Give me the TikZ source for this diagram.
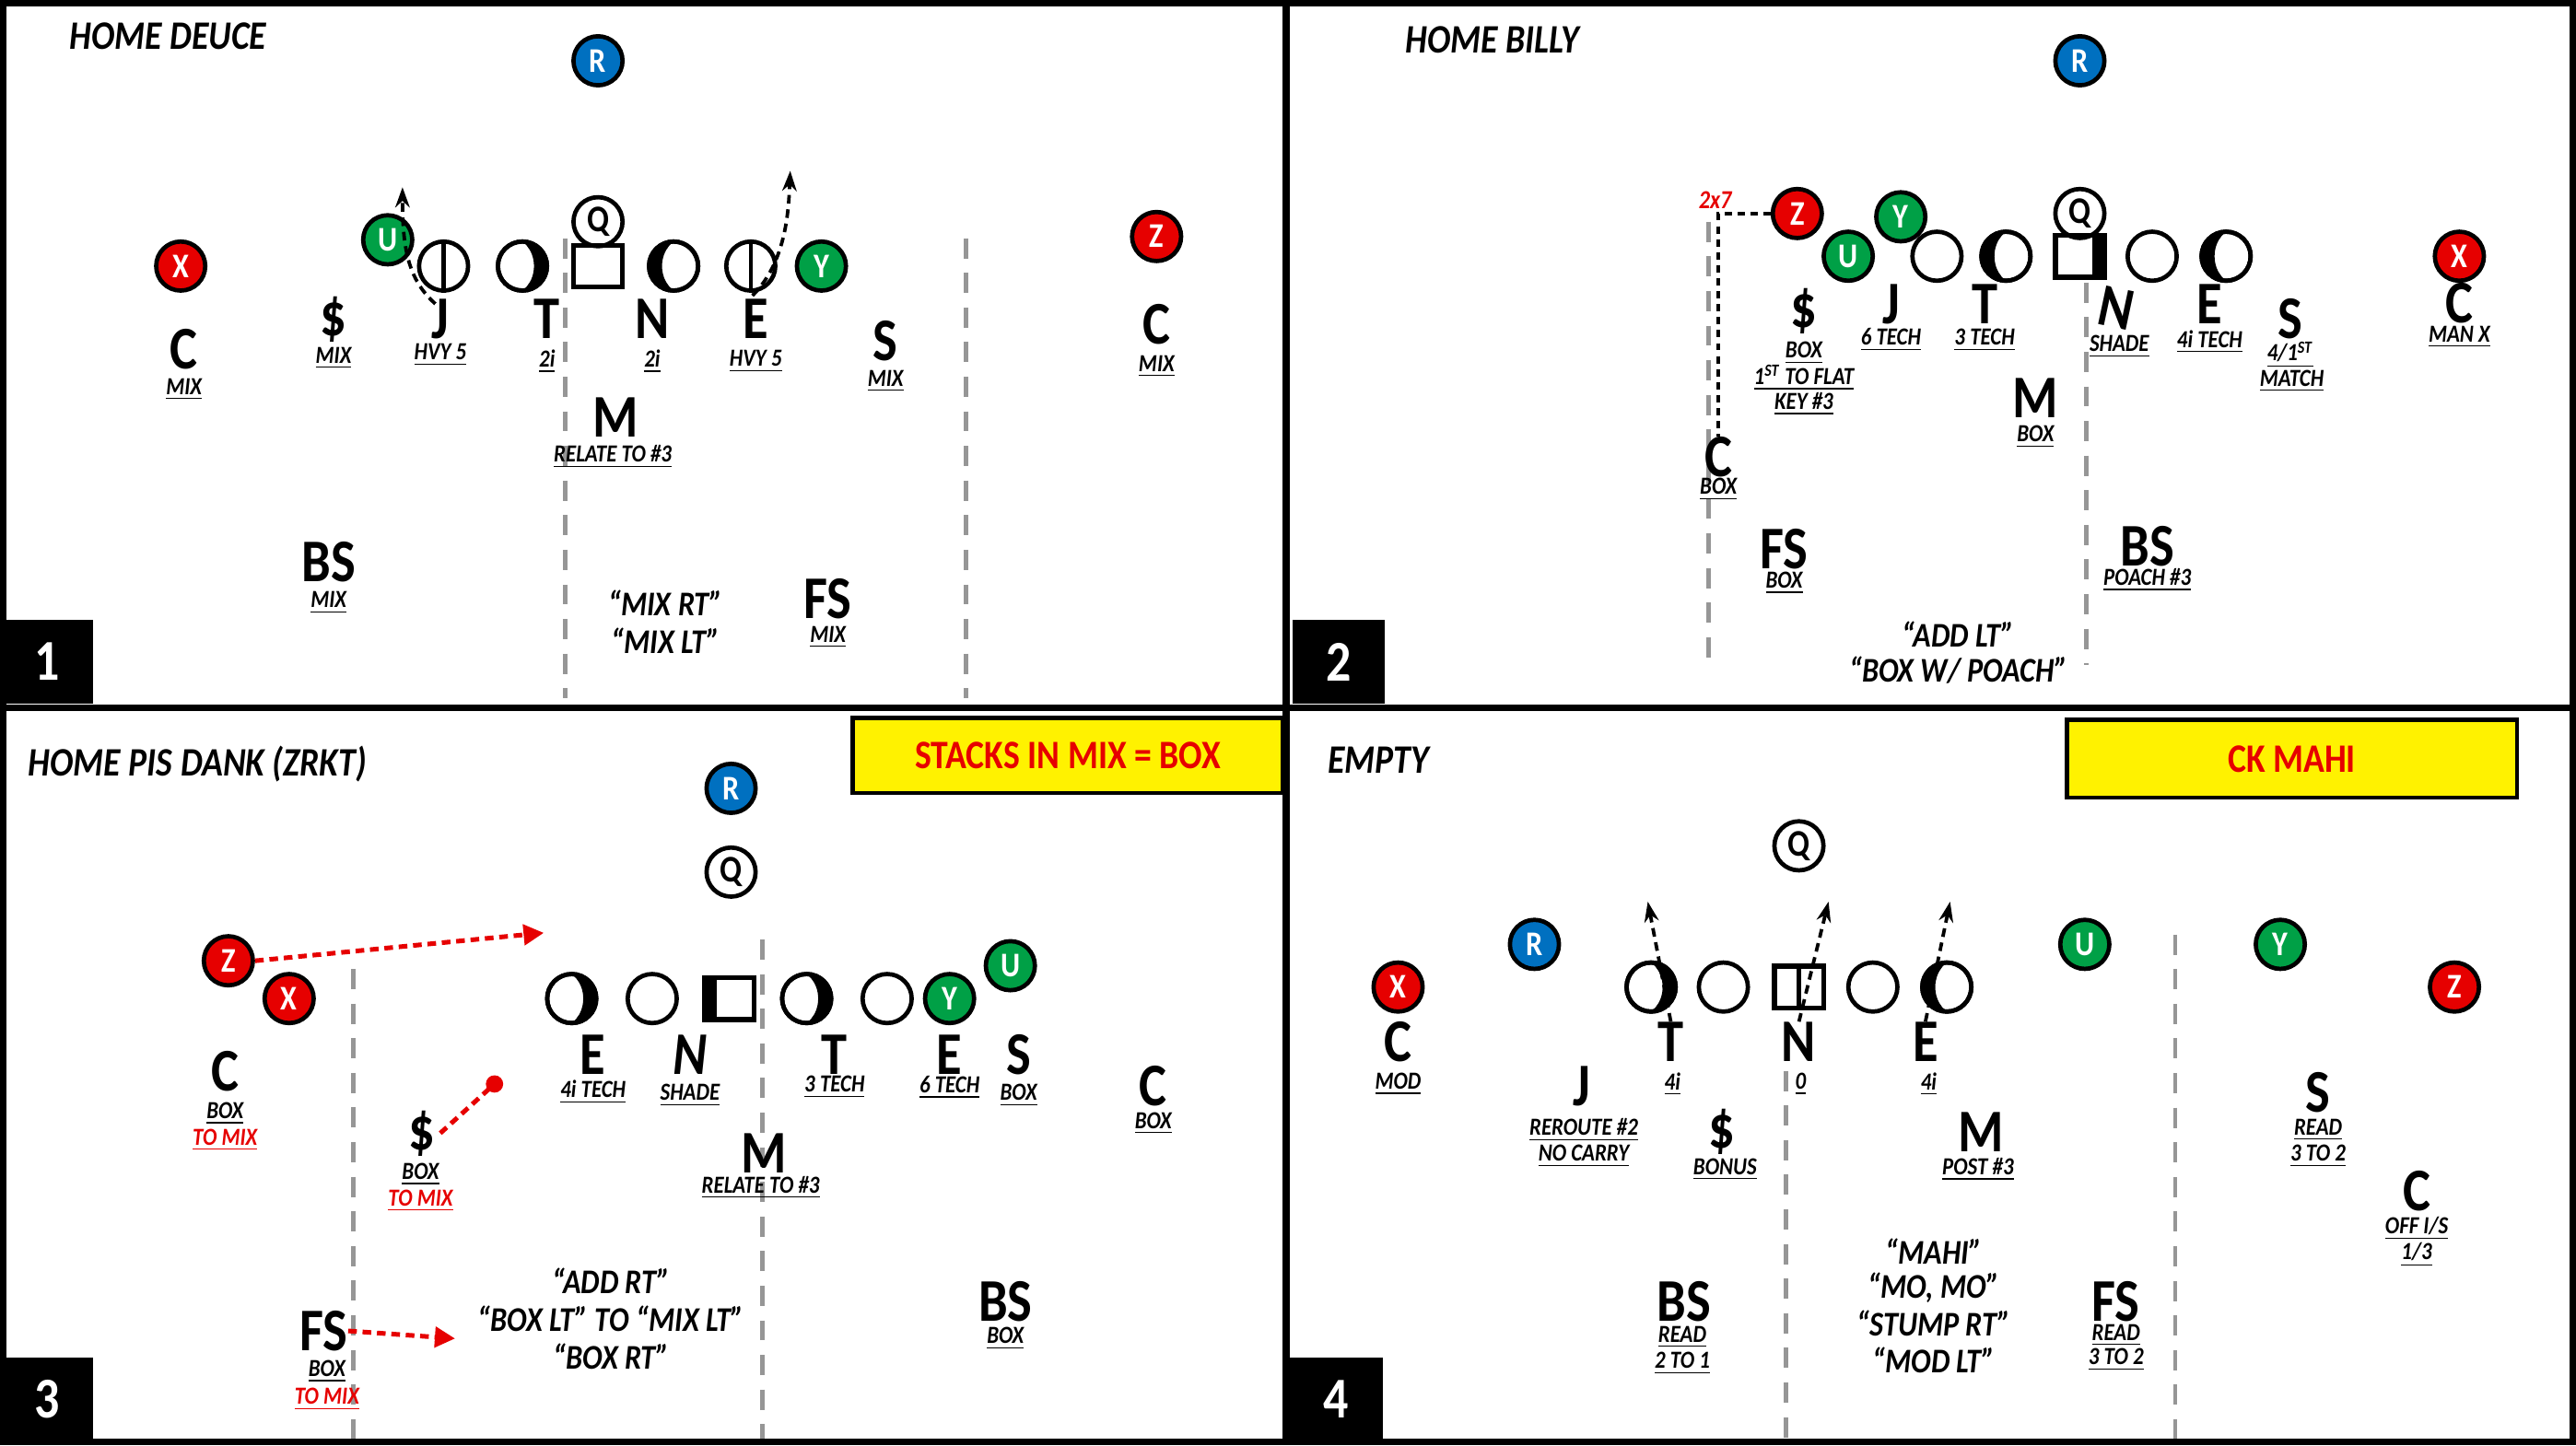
\documentclass[tikz,border=0pt]{standalone}
\usepackage{fontspec}
\setmainfont{Carlito}[FakeStretch=0.86]
\usetikzlibrary{arrows.meta,calc}
\definecolor{pred}{RGB}{230,0,0}
\definecolor{pgreen}{RGB}{0,160,70}
\definecolor{pblue}{RGB}{0,112,192}
\definecolor{pgray}{RGB}{150,150,150}
\tikzset{
  plr/.style={circle,draw=black,line width=1.5pt,minimum size=17pt,inner sep=0pt,text=white,font=\bfseries\fontsize{12}{12}\selectfont},
  oline/.style={circle,draw=black,line width=1.5pt,minimum size=17pt,inner sep=0pt,font=\bfseries\fontsize{13}{13}\selectfont},
  ctr/.style={rectangle,draw=black,line width=1.7pt,minimum width=17pt,minimum height=14.5pt,inner sep=0pt},
  big/.style={font=\bfseries\fontsize{21}{21}\selectfont,inner sep=0pt,yshift=1.5pt},
  lab/.style={font=\bfseries\itshape\fontsize{8.5}{9}\selectfont,inner sep=0pt,align=center},
  ttl/.style={font=\bfseries\itshape\fontsize{14}{14}\selectfont,anchor=west,inner sep=0pt},
  quo/.style={font=\bfseries\itshape\fontsize{12}{12}\selectfont,inner sep=0pt},
  yard/.style={draw=pgray,line width=1.5pt,dash pattern=on 7pt off 5pt},
  run/.style={draw=black,line width=1.2pt,dash pattern=on 3pt off 2pt,-{Stealth[length=7pt,width=5pt]}},
  rrun/.style={draw=pred,line width=1.6pt,dash pattern=on 3pt off 2pt,-{Triangle[length=7pt,width=7pt]}},
  numbox/.style={fill=black,text=white,font=\bfseries\fontsize{20}{20}\selectfont,minimum width=32pt,minimum height=29pt,inner sep=0pt},
  ybox/.style={fill=yellow,draw=black,line width=1.5pt,text=pred,font=\bfseries\fontsize{14}{14}\selectfont,inner sep=0pt}
}
\newcommand{\plr}[5]{\node[plr,fill=#4] (#1) at (#2,#3) {#5};}
\newcommand{\ol}[3]{\node[oline] (#1) at (#2,#3) {};}
\newcommand{\olv}[3]{\node[oline] (#1) at (#2,#3) {};\draw[line width=1.5pt] (#1.north) -- (#1.south);}
\newcommand{\crR}[3]{\node[oline] (#1) at (#2,#3) {};
  \begin{scope}\clip (#1.center) circle (8.5pt);
  \fill[even odd rule] ($(#1.center)+(-12pt,-12pt)$) rectangle ($(#1.center)+(12pt,12pt)$) ($(#1.center)+(-4.5pt,0)$) ellipse (8.5pt and 10pt);\end{scope}
  \draw[line width=1.5pt] (#1.center) circle (8.5pt);}
\newcommand{\crL}[3]{\node[oline] (#1) at (#2,#3) {};
  \begin{scope}\clip (#1.center) circle (8.5pt);
  \fill[even odd rule] ($(#1.center)+(-12pt,-12pt)$) rectangle ($(#1.center)+(12pt,12pt)$) ($(#1.center)+(4.5pt,0)$) ellipse (8.5pt and 10pt);\end{scope}
  \draw[line width=1.5pt] (#1.center) circle (8.5pt);}
\newcommand{\lb}[4]{\node[lab] (#1) at (#2,#3) {\underline{#4}};}
\newcommand{\bg}[4]{\node[big] (#1) at (#2,#3) {#4};}
\begin{document}
\begin{tikzpicture}[x=0.02cm,y=-0.02cm]
\useasboundingbox (0,0) rectangle (1568,880);
\fill[white] (0,0) rectangle (1568,880);
% ---------- PANEL 1 ----------
\node[ttl] (t1) at (42,22) {HOME DEUCE};
\draw[yard] (344,145) -- (344,425);
\draw[yard] (588,145) -- (588,425);
\plr{a1r}{364}{37}{pblue}{R}
\node[oline] (a1q) at (364,135) {Q};
\node[ctr] (a1c) at (364,162) {};
\olv{a1l1}{270}{162}
\crR{a1l2}{318}{162}
\crL{a1l3}{410}{162}
\olv{a1l4}{457}{162}
\plr{a1u}{236}{146}{pgreen}{U}
\plr{a1y}{500}{162}{pgreen}{Y}
\plr{a1x}{110}{162}{pred}{X}
\plr{a1z}{704}{144}{pred}{Z}
\bg{a1C}{112}{215}{C}\lb{a1Cl}{112}{237}{MIX}
\bg{a1D}{203}{197}{\$}\lb{a1Dl}{203}{218}{MIX}
\bg{a1J}{268}{197}{J}\lb{a1Jl}{268}{216}{HVY 5}
\bg{a1T}{333}{197}{T}\lb{a1Tl}{333}{220}{2i}
\bg{a1N}{397}{197}{N}\lb{a1Nl}{397}{220}{2i}
\bg{a1E}{460}{197}{E}\lb{a1El}{460}{220}{HVY 5}
\bg{a1S}{539}{210}{S}\lb{a1Sl}{539}{232}{MIX}
\bg{a1C2}{704}{200}{C}\lb{a1C2l}{704}{223}{MIX}
\bg{a1M}{375}{257}{M}\lb{a1Ml}{373}{278}{RELATE TO \#3}
\bg{a1B}{200}{345}{BS}\lb{a1Bl}{200}{367}{MIX}
\bg{a1F}{504}{367}{FS}\lb{a1Fl}{504}{388}{MIX}
\node[quo] (a1q1) at (405,367) {“MIX RT”};
\node[quo] (a1q2) at (405,390) {“MIX LT”};
\coordinate (a1ja) at (265,185); \coordinate (a1jb) at (245,114);
\draw[run] (a1ja) .. controls (248,170) and (245,150) .. (a1jb);
\coordinate (a1ea) at (458,180); \coordinate (a1eb) at (481,104);
\draw[run] (a1ea) .. controls (478,160) and (480,130) .. (a1eb);
\node[numbox] (n1) at (28.5,403) {1};
% ---------- PANEL 2 ----------
\node[ttl] (t2) at (855,24) {HOME BILLY};
\draw[yard] (1040,135) -- (1040,405);
\draw[yard] (1270,172) -- (1270,405);
\plr{b1r}{1266}{37}{pblue}{R}
\node[oline] (b1q) at (1266,130) {Q};
\node[ctr] (b1c) at (1266,156) {};
\fill ($(b1c.north east)+(-5pt,0)$) rectangle (b1c.south east);
\ol{b1l1}{1179}{156}
\crL{b1l2}{1221}{156}
\ol{b1l3}{1310}{156}
\crL{b1l4}{1355}{156}
\plr{b1u}{1125}{156}{pgreen}{U}
\plr{b1y}{1157}{132}{pgreen}{Y}
\plr{b1z}{1094}{130}{pred}{Z}
\plr{b1x}{1497}{156}{pred}{X}
\node[font=\bfseries\itshape\fontsize{9}{9}\selectfont,text=pred] (b127) at (1044,122) {2x7};
\bg{b1D}{1098}{192}{\$}\lb{b1Dl}{1098}{215}{BOX}
\lb{b1Dl2}{1098}{230}{1\textsuperscript{ST} TO FLAT}\lb{b1Dl3}{1098}{246}{KEY \#3}
\bg{b1J}{1151}{188}{J}\lb{b1Jl}{1151}{207}{6 TECH}
\bg{b1T}{1208}{188}{T}\lb{b1Tl}{1208}{207}{3 TECH}
\node[big,rotate=-12] (b1N) at (1288,190) {N};\lb{b1Nl}{1290}{211}{SHADE}
\bg{b1E}{1345}{188}{E}\lb{b1El}{1345}{208}{4i TECH}
\bg{b1S}{1394}{197}{S}\lb{b1Sl}{1394}{216}{4/1\textsuperscript{ST}}\lb{b1Sl2}{1395}{232}{MATCH}
\bg{b1C}{1497}{187}{C}\lb{b1Cl}{1497}{205}{MAN X}
\bg{b1M}{1239}{245}{M}\lb{b1Ml}{1239}{266}{BOX}
\bg{b1C2}{1046}{281}{C}\lb{b1C2l}{1046}{298}{BOX}
\bg{b1F}{1086}{337}{FS}\lb{b1Fl}{1086}{355}{BOX}
\bg{b1B}{1307}{335}{BS}\lb{b1Bl}{1307}{353}{POACH \#3}
\node[quo] (b1q1) at (1192,386) {“ADD LT”};
\node[quo] (b1q2) at (1192,408) {“BOX W/ POACH”};
\coordinate (b1k) at (1046,130);
\draw[line width=1.3pt,dash pattern=on 2.5pt off 2pt] (b1z.west) -- (b1k) -- (b1C2.north);
\node[numbox] (n2) at (815,403) {2};
% ---------- PANEL 3 ----------
\node[ttl] (t3) at (17,465) {HOME PIS DANK (ZRKT)};
\node[ybox,minimum width=149pt,minimum height=26pt] (y3) at (650,460) {STACKS IN MIX = BOX};
\draw[yard] (215,590) -- (215,878);
\draw[yard] (464,572) -- (464,878);
\plr{c1r}{445}{480}{pblue}{R}
\node[oline] (c1q) at (445,531) {Q};
\node[ctr] (c1c) at (444,608) {};
\fill (c1c.north west) rectangle ($(c1c.south west)+(5pt,0)$);
\crR{c1l1}{348}{608}
\ol{c1l2}{397}{608}
\crR{c1l3}{491}{608}
\ol{c1l4}{540}{608}
\plr{c1y}{578}{608}{pgreen}{Y}
\plr{c1u}{615}{588}{pgreen}{U}
\plr{c1z}{139}{585}{pred}{Z}
\plr{c1x}{176}{608}{pred}{X}
\bg{c1C}{137}{655}{C}\lb{c1Cl}{137}{678}{BOX}
\node[lab,text=pred] (c1Cl2) at (137,694) {\underline{TO MIX}};
\bg{c1E}{361}{645}{E}\lb{c1El}{361}{665}{4i TECH}
\node[big,font=\bfseries\itshape\fontsize{21}{21}\selectfont] (c1N) at (420,645) {N};\lb{c1Nl}{420}{667}{SHADE}
\bg{c1T}{508}{645}{T}\lb{c1Tl}{508}{662}{3 TECH}
\bg{c1E2}{578}{645}{E}\lb{c1E2l}{578}{662}{6 TECH}
\bg{c1S}{620}{645}{S}\lb{c1Sl}{620}{667}{BOX}
\bg{c1C2}{702}{664}{C}\lb{c1C2l}{702}{684}{BOX}
\bg{c1D}{257}{693}{\$}\lb{c1Dl}{256}{715}{BOX}
\node[lab,text=pred] (c1Dl2) at (256,731) {\underline{TO MIX}};
\bg{c1M}{465}{705}{M}\lb{c1Ml}{463}{723}{RELATE TO \#3}
\bg{c1F}{197}{813}{FS}\lb{c1Fl}{199}{835}{BOX}
\node[lab,text=pred] (c1Fl2) at (199,852) {\underline{TO MIX}};
\bg{c1B}{612}{795}{BS}\lb{c1Bl}{612}{815}{BOX}
\node[quo] (c1q1) at (372,780) {“ADD RT”};
\node[quo] (c1q2) at (372,803) {“BOX LT” TO “MIX LT”};
\node[quo] (c1q3) at (372,826) {“BOX RT”};
\coordinate (c1za) at (331,568);
\draw[rrun] (c1z.east) -- (c1za);
\coordinate (c1fa) at (277,815);
\draw[rrun] (c1F.east) -- (c1fa);
\coordinate (c1dd) at (301,660);
\draw[draw=pred,line width=1.6pt,dash pattern=on 3pt off 2pt] (268,690) -- (c1dd);
\fill[pred] (c1dd) circle (3pt);
\node[numbox] (n3) at (28.5,852) {3};
% ---------- PANEL 4 ----------
\node[ttl] (t4) at (808,463) {EMPTY};
\node[ybox,minimum width=156pt,minimum height=27pt] (y4) at (1395,462) {CK MAHI};
\draw[yard] (1087,652) -- (1087,878);
\draw[yard] (1324,569) -- (1324,878);
\node[oline] (d1q) at (1095,515) {Q};
\node[ctr] (d1c) at (1095,601) {};
\draw[line width=1.5pt] (d1c.north) -- (d1c.south);
\crR{d1l1}{1005}{601}
\ol{d1l2}{1049}{601}
\ol{d1l3}{1140}{601}
\crL{d1l4}{1185}{601}
\plr{d1r}{934}{575}{pblue}{R}
\plr{d1x}{851}{601}{pred}{X}
\plr{d1z}{1494}{601}{pred}{Z}
\plr{d1u}{1269}{575}{pgreen}{U}
\plr{d1y}{1388}{575}{pgreen}{Y}
\bg{d1C}{851}{637}{C}\lb{d1Cl}{851}{660}{MOD}
\bg{d1T}{1017}{637}{T}\lb{d1Tl}{1018}{660}{4i}
\bg{d1N}{1095}{637}{N}\lb{d1Nl}{1096}{660}{0}
\bg{d1E}{1172}{637}{E}\lb{d1El}{1174}{660}{4i}
\bg{d1J}{963}{664}{J}\lb{d1Jl}{964}{688}{REROUTE \#2}\lb{d1Jl2}{964}{704}{NO CARRY}
\bg{d1D}{1048}{692}{\$}\lb{d1Dl}{1050}{712}{BONUS}
\bg{d1M}{1206}{692}{M}\lb{d1Ml}{1204}{712}{POST \#3}
\bg{d1S}{1411}{668}{S}\lb{d1Sl}{1411}{688}{READ}\lb{d1Sl2}{1411}{704}{3 TO 2}
\bg{d1C2}{1471}{728}{C}\lb{d1C2l}{1471}{748}{OFF I/S}\lb{d1C2l2}{1471}{764}{1/3}
\bg{d1B}{1025}{795}{BS}\lb{d1Bl}{1024}{814}{READ}\lb{d1Bl2}{1024}{830}{2 TO 1}
\bg{d1F}{1288}{795}{FS}\lb{d1Fl}{1288}{813}{READ}\lb{d1Fl2}{1288}{828}{3 TO 2}
\node[quo] (d1q1) at (1177,762) {“MAHI”};
\node[quo] (d1q2) at (1177,784) {“MO, MO”};
\node[quo] (d1q3) at (1177,806) {“STUMP RT”};
\node[quo] (d1q4) at (1177,828) {“MOD LT”};
\coordinate (d1ta) at (1003,549); \draw[run] (d1T.north) -- (d1ta);
\coordinate (d1na) at (1113,549); \draw[run] (d1N.north) -- (d1na);
\coordinate (d1ea) at (1187,549); \draw[run] (d1E.north) -- (d1ea);
\node[numbox] (n4) at (813.5,852) {4};
% ---------- frame ----------
\draw[line width=2.4pt] (2,2) rectangle (1566,878);
\draw[line width=2.4pt] (783,0) -- (783,880);
\draw[line width=2.4pt] (0,431) -- (1568,431);
\end{tikzpicture}
\end{document}
